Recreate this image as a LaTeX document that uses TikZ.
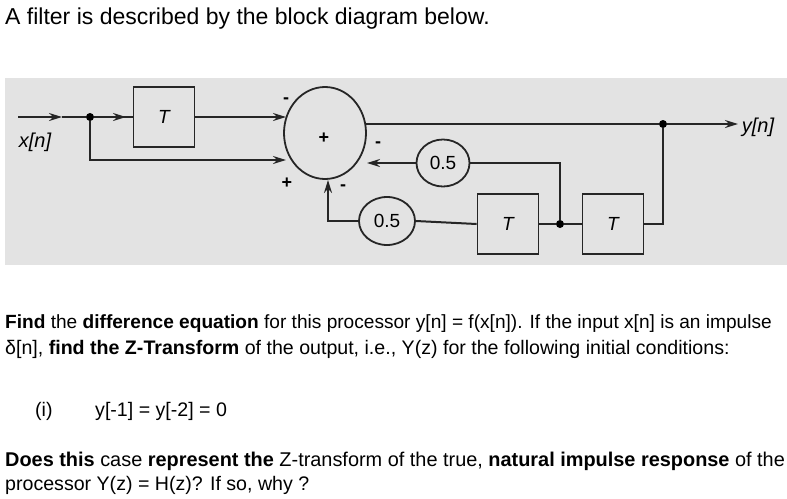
\documentclass[tikz,border=0pt]{standalone}
\usepackage{fontspec}
\setmainfont{Liberation Sans}
\usetikzlibrary{arrows.meta,shapes.geometric}
\begin{document}
\begin{tikzpicture}[x=1pt,y=-1pt,
  wire/.style={line width=2pt,draw=black!85},
  arr/.style={wire,-{Stealth[length=13pt,width=8pt]}},
  delay/.style={draw=black!85,line width=1.8pt,minimum width=61pt,minimum height=60pt,font=\itshape\fontsize{19}{19}\selectfont},
  gain/.style={draw=black!85,line width=1.8pt,ellipse,font=\fontsize{19}{19}\selectfont},
  dotn/.style={circle,fill=black,inner sep=0pt,minimum size=8pt},
  sgn/.style={font=\bfseries\fontsize{18}{18}\selectfont},
  body/.style={anchor=base west,inner sep=0pt,font=\fontsize{19.6}{19.6}\selectfont}]
\useasboundingbox (0,0) rectangle (787,498);
\node[body,font=\fontsize{23}{23}\selectfont] (title) at (5,24) {A filter is described by the block diagram below.};
\fill[black!11] (5,78) rectangle (787,265);
% diagram
\coordinate (xin) at (18,117);
\node[dotn] (d1) at (90,117) {};
\node[delay] (T1) at (164,117) {T};
\node[draw=black!85,line width=1.8pt,ellipse,minimum width=82pt,minimum height=92pt,inner sep=0pt] (S) at (325,133) {};
\node[sgn] (pl) at (324,138) {+};
\node[sgn] (m1) at (286,101) {-};
\node[sgn] (m2) at (378,145) {-};
\node[sgn] (m3) at (343,188) {-};
\node[sgn] (p2) at (287,183) {+};
\node[font=\itshape\fontsize{20}{20}\selectfont] (xl) at (35,142) {x[n]};
\node[font=\itshape\fontsize{20}{20}\selectfont] (yl) at (758,127) {y[n]};
\node[dotn] (d2) at (663,124) {};
\node[gain,minimum width=53pt,minimum height=47pt,inner sep=0pt] (g1) at (443,163) {0.5};
\node[gain,minimum width=56pt,minimum height=48pt,inner sep=0pt] (g2) at (387,221) {0.5};
\node[delay] (T2) at (508,224) {T};
\node[delay] (T3) at (613,224) {T};
\node[dotn] (d3) at (560,224) {};
\coordinate (yout) at (738,124);
\coordinate (xa) at (62,117);
\draw[arr] (xin) -- (xa);
\draw[wire] (xa) -- (d1) -- (T1.west);
\draw[arr] (d1) -- (126,117);
\draw[arr] (T1.east) -- (286,117);
\draw[arr] (d1) |- (286,160);
\draw[wire] (366,124) -- (d2);
\draw[arr] (d2) -- (yout);
\draw[arr] (g1.west) -- (367,163);
\draw[wire] (g1.east) -| (d3);
\draw[wire] (T2.east) -- (d3) -- (T3.west);
\draw[wire] (T3.east) -| (d2);
\draw[wire] (T2.west) -- (g2.east);
\draw[arr] (g2.west) -| (328,180);
% text
\node[body,font=\fontsize{19.1}{19.1}\selectfont] (l1) at (5,328) {\textbf{Find} the \textbf{difference equation} for this processor y[n] = f(x[n]). If the input x[n] is an impulse};
\node[body] (l2) at (5,354) {δ[n], \textbf{find the Z-Transform} of the output, i.e., Y(z) for the following initial conditions:};
\node[body] (l3) at (35,416) {(i)};
\node[body] (l4) at (95,416) {y[-1] = y[-2] = 0};
\node[body,font=\fontsize{19.9}{19.9}\selectfont] (l5) at (5,466) {\textbf{Does this} case \textbf{represent the} Z-transform of the true, \textbf{natural impulse response} of the};
\node[body] (l6) at (5,490) {processor Y(z) = H(z)? If so, why ?};
\end{tikzpicture}
\end{document}
